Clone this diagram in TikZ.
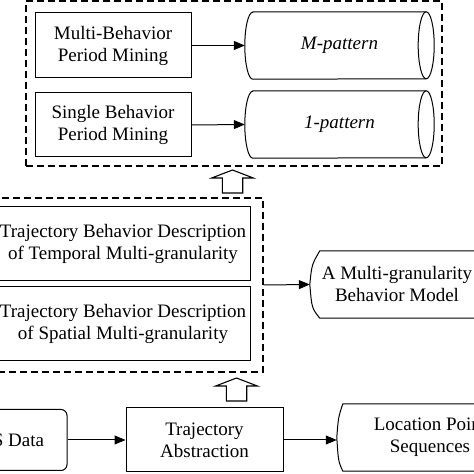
\documentclass[tikz,border=0pt]{standalone}
\usepackage{fontspec}
\setmainfont{Liberation Serif}
\newfontfamily\tnr{Liberation Serif}
\usetikzlibrary{arrows.meta}
\begin{document}
\begin{tikzpicture}[x=1pt,y=1pt,
  box/.style={draw, line width=1pt, inner sep=0pt, align=center, font=\tnr\fontsize{19}{22}\selectfont},
  dashbox/.style={draw, line width=1.1pt, dash pattern=on 7pt off 4pt, inner sep=0pt},
  txt/.style={inner sep=0pt, align=center, font=\tnr\fontsize{19}{22}\selectfont},
  arr/.style={line width=1pt, -{Triangle[length=11pt,width=9pt]}},
  hollow/.style={draw, line width=1.1pt, fill=white, line join=miter},
  shp/.style={draw, line width=1pt}]
\useasboundingbox (0,0) rectangle (474,474);
\clip (0,0) rectangle (474,474);
\fill[white] (0,0) rectangle (474,474);

% top group
\node[dashbox, minimum width=416pt, minimum height=165pt] (top) at (234,390.5) {};
\node[box, minimum width=156pt, minimum height=65pt] (mb) at (113,428.5) {Multi-Behavior\\Period Mining};
\node[box, minimum width=156pt, minimum height=64pt] (sb) at (113,349) {Single Behavior\\Period Mining};
\node[txt, minimum width=189pt, minimum height=67pt] (mp) at (339.5,428.5) {\itshape M-pattern};
\node[txt, minimum width=189pt, minimum height=67pt] (op) at (339.5,349.5) {\itshape 1-pattern};
\foreach \c in {mp,op}{
  \draw[shp] ([xshift=8pt]\c.north west) -- ([xshift=-8pt]\c.north east)
     arc[start angle=90,end angle=-90,x radius=8pt,y radius=33.5pt]
     -- ([xshift=8pt]\c.south west)
     arc[start angle=270,end angle=90,x radius=8pt,y radius=33.5pt] -- cycle;
  \draw[shp] ([xshift=-8pt]\c.north east) arc[start angle=90,end angle=270,x radius=8pt,y radius=33.5pt];
}
\draw[arr] (mb.east) -- (mp.west);
\draw[arr] (sb.east) -- (op.west);

% hollow arrow 1
\draw[hollow] (222.3,281) -- (222.3,296) -- (211.7,296) -- (232.5,304) -- (253.3,296) -- (242.7,296) -- (242.7,281) -- cycle;

% middle group
\node[dashbox, minimum width=276pt, minimum height=174pt] (mid) at (125,189) {};
\node[box, minimum width=254pt, minimum height=74pt] (tmp) at (123,230) {Trajectory Behavior Description\\of Temporal Multi-granularity};
\node[box, minimum width=254pt, minimum height=74pt] (spa) at (123,150) {Trajectory Behavior Description\\of Spatial Multi-granularity};
\node[txt, minimum width=174pt, minimum height=67pt] (mg) at (397,189.5) {A Multi-granularity\\Behavior Model};
\draw[shp] (mg.west) .. controls +(2pt,20pt) .. ([xshift=10pt]mg.north west)
   -- ([xshift=30pt]mg.north east) .. controls +(8pt,-10pt) .. ([xshift=40pt]mg.east)
   .. controls +(-2pt,-20pt) .. ([xshift=30pt]mg.south east)
   -- ([xshift=10pt]mg.south west) .. controls +(-8pt,10pt) .. (mg.west) -- cycle;
\draw[arr] (mid.east) -- (mg.west);

% hollow arrow 2
\draw[hollow] (226.3,73) -- (226.3,88) -- (215.7,88) -- (236.5,96) -- (257.3,88) -- (246.7,88) -- (246.7,73) -- cycle;

% bottom row
\node[box, rounded corners=6pt, minimum width=121.5pt, minimum height=61pt] (gps) at (6.25,34) {GPS Data};
\node[box, minimum width=157pt, minimum height=64pt] (ta) at (204.5,34) {Trajectory\\Abstraction};
\node[txt, minimum width=186pt, minimum height=67pt] (loc) at (430,36.5) {Location Point\\Sequences};
\draw[shp] (loc.west) .. controls +(1.5pt,20pt) .. ([xshift=6pt]loc.north west)
   -- ([xshift=-10pt]loc.north east) .. controls +(8pt,-10pt) .. (loc.east)
   .. controls +(-2pt,-20pt) .. ([xshift=-10pt]loc.south east)
   -- ([xshift=6pt]loc.south west) .. controls +(-4.5pt,10pt) .. (loc.west) -- cycle;
\draw[arr] (gps.east) -- (ta.west);
\draw[arr] (ta.east) -- (ta.east -| loc.west);
\end{tikzpicture}
\end{document}
